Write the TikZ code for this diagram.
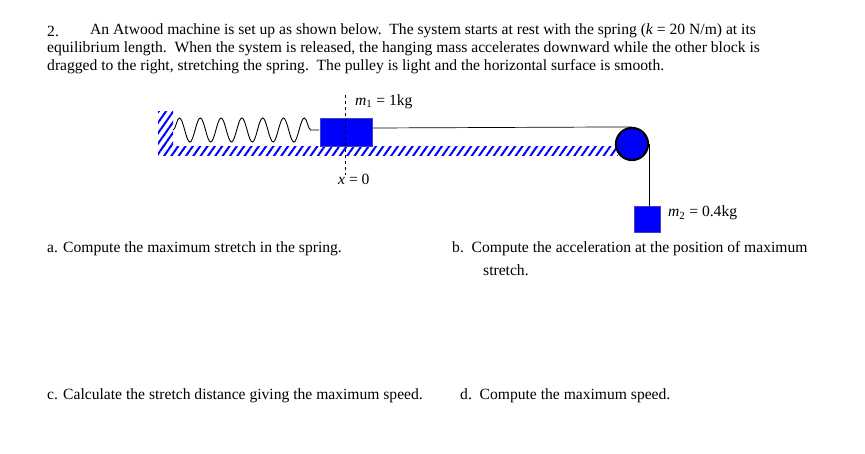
\documentclass[tikz,border=0pt]{standalone}
\usepackage{fontspec}
\setmainfont{Liberation Serif}
\usetikzlibrary{patterns.meta,decorations.pathmorphing}
\begin{document}
\begin{tikzpicture}[x=1pt,y=-1pt,
 txt/.style={anchor=west,inner sep=0,font=\fontsize{15.6}{18}\selectfont},
 blk/.style={fill=blue,draw=blue!50!gray,line width=0.8pt},
 hatch/.style={pattern={Lines[angle=55,distance=6pt,line width=2pt]},pattern color=blue}]
\useasboundingbox (0,0) rectangle (865,453);
\node[txt] (n2) at (47,31) {2.};
\node[txt] (l1) at (90,31) {An Atwood machine is set up as shown below.\ \ The system starts at rest with the spring (\textit{k} = 20 N/m) at its};
\node[txt] (l2) at (47,49) {equilibrium length.\ \ When the system is released, the hanging mass accelerates downward while the other block is};
\node[txt] (l3) at (47,67) {dragged to the right, stretching the spring.\ \ The pulley is light and the horizontal surface is smooth.};
% hatches
\fill[hatch] (158,111) rectangle (173,146);
\fill[hatch] (158,146) rectangle (618,155);
% spring
\coordinate (sa) at (173,130);
\coordinate (sb) at (319,130);
\draw[line width=0.9pt,decorate,decoration={snake,segment length=20.8pt,amplitude=12pt}] (sa) -- (sb);
% block m1
\node[blk,minimum width=52pt,minimum height=28pt,inner sep=0,anchor=north west] (m1) at (320,118) {};
\draw[dashed] (345,95) -- (345,175);
\node[txt] (m1l) at (355,102) {\textit{m}\textsubscript{1} = 1kg};
\node[txt] (x0) at (338,179) {\textit{x} = 0};
% pulley
\node[circle,fill=blue,draw=black,line width=2.2pt,minimum size=32pt,inner sep=0] (p) at (632,144) {};
\draw[line width=0.7pt] (m1.east |- 0,128) -- (p.north);
\node[blk,minimum width=26pt,minimum height=26pt,inner sep=0,anchor=north west] (m2) at (634,206) {};
\draw[line width=0.7pt] (p.east) -- (p.east |- m2.north);
\node[txt] (m2l) at (668,213) {\textit{m}\textsubscript{2} = 0.4kg};
% questions
\node[txt] (qa) at (47,249) {a. Compute the maximum stretch in the spring.};
\node[txt] (qb) at (452,249) {b.\ \ Compute the acceleration at the position of maximum};
\node[txt] (qb2) at (483,270) {stretch.};
\node[txt] (qc) at (47,396) {c. Calculate the stretch distance giving the maximum speed.};
\node[txt] (qd) at (460,396) {d.\ \ Compute the maximum speed.};
\end{tikzpicture}
\end{document}
